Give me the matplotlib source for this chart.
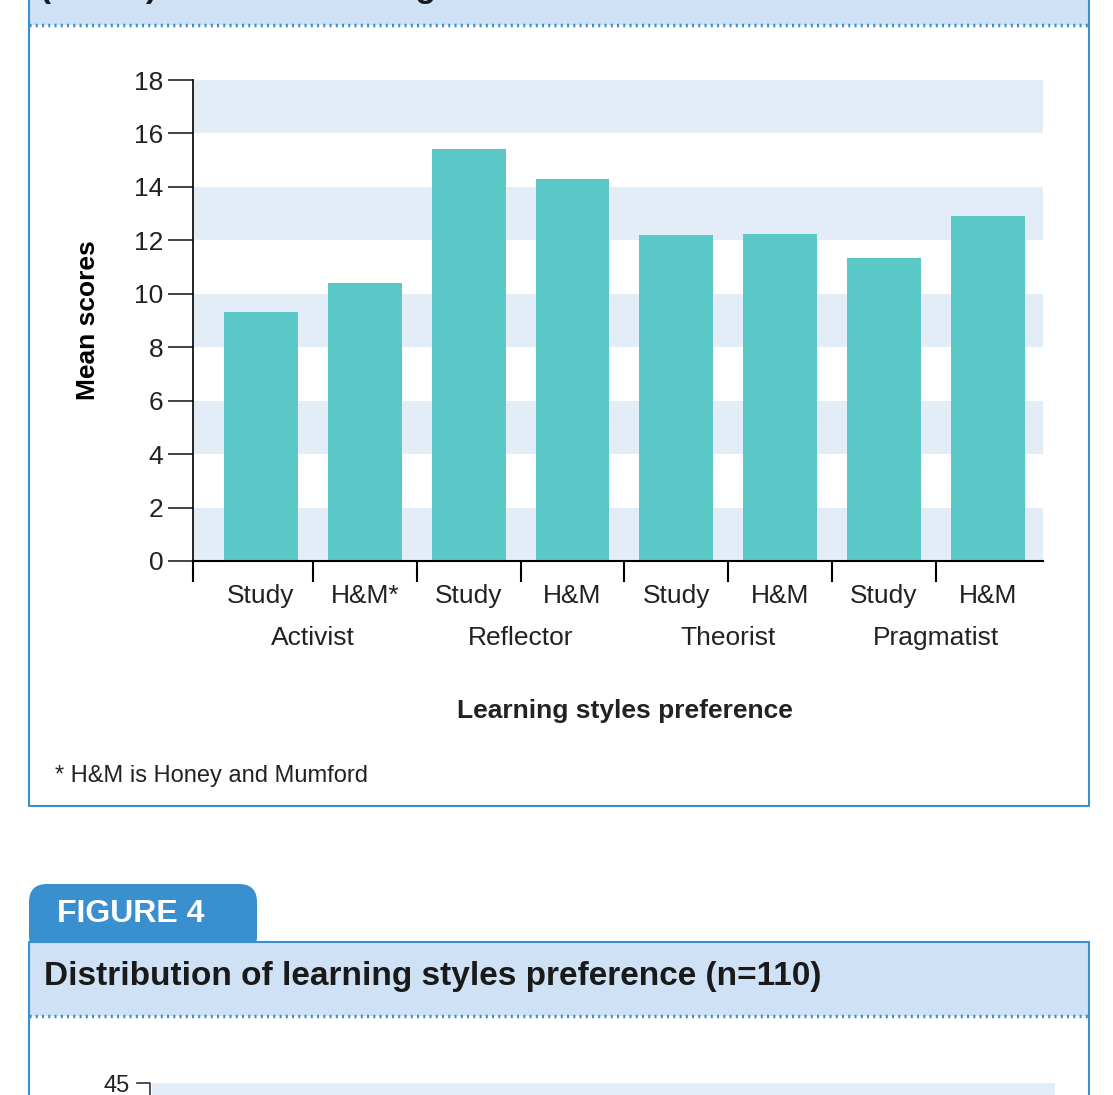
import numpy as np
import matplotlib.pyplot as plt
from matplotlib.patches import Rectangle, FancyBboxPatch

groups = ["Activist", "Reflector", "Theorist", "Pragmatist"]
bar_labels = ["Study", "H&M*", "Study", "H&M", "Study", "H&M", "Study", "H&M"]
mean_scores = [9.3, 10.4, 15.4, 14.3, 12.2, 12.25, 11.35, 12.9]
y_ticks = [0, 2, 4, 6, 8, 10, 12, 14, 16, 18]

W, H = 1113, 1095
blue = "#3a8fcf"
pale = "#cfe1f4"
teal = "#5bc8c8"
band = "#e3edf8"

fig = plt.figure(figsize=(W / 100, H / 100), dpi=100)
plt.rcParams["font.family"] = "Liberation Sans"
bg = fig.add_axes([0, 0, 1, 1])
bg.set_xlim(0, W)
bg.set_ylim(H, 0)
bg.axis("off")

# top figure box (cropped at the top in the source)
bg.add_patch(Rectangle((29, -5), 1060, 30, facecolor=pale, edgecolor="none"))
bg.plot([29, 1089], [25, 25], color=blue, lw=2.5, ls=(0, (0.6, 1.2)))
bg.plot([29, 29, 1089, 1089], [-5, 806, 806, -5], color=blue, lw=1.5)
bg.text(40, 4, "(2000b) norm for nursing students", fontsize=24, fontweight="bold",
        color="#1a1a1a", va="bottom")
bg.text(55, 776, "* H&M is Honey and Mumford", fontsize=17, color="#222222", va="center")

# figure 4 header
bg.add_patch(FancyBboxPatch((29, 884), 228, 70, boxstyle="round,pad=0,rounding_size=18",
                            facecolor=blue, edgecolor="none"))
bg.text(57, 914, "FIGURE 4", fontsize=23, fontweight="bold", color="white", va="center")
bg.add_patch(Rectangle((29, 942), 1060, 74, facecolor=pale, edgecolor="none"))
bg.plot([29, 29, 1089, 1089], [H + 5, 942, 942, H + 5], color=blue, lw=1.5)
bg.plot([29, 1089], [1016, 1016], color=blue, lw=2.5, ls=(0, (0.6, 1.2)))
bg.text(44, 976, "Distribution of learning styles preference (n=110)", fontsize=24,
        fontweight="bold", color="#1a1a1a", va="center")
bg.add_patch(Rectangle((152, 1083), 903, 20, facecolor=band, edgecolor="none"))
bg.plot([137, 150, 150], [1083, 1083, H + 2], color="#333333", lw=1.2)
bg.text(130, 1086, "45", fontsize=17, ha="right", va="center", color="#222222")

# main chart
ax = fig.add_axes([193 / W, 1 - 561 / H, 850 / W, 481 / H])
x = np.arange(len(mean_scores))
for lo in range(0, 18, 4):
    ax.axhspan(lo, lo + 2, color=band, lw=0, zorder=0)
ax.bar(x, mean_scores, width=0.71, color=teal, zorder=2)
ax.set_xlim(-0.654, len(mean_scores) - 0.47)
ax.set_ylim(0, 18)
ax.set_yticks(y_ticks)
ax.tick_params(axis="y", labelsize=19, length=18, width=1.2, colors="#222222")
ax.set_xticks([-0.654] + list(np.arange(0.5, len(mean_scores) - 1, 1.0)))
ax.set_xticklabels([])
ax.tick_params(axis="x", direction="out", length=15, width=1.5)
for s in ["top", "right"]:
    ax.spines[s].set_visible(False)
ax.spines["left"].set_linewidth(1.2)
ax.spines["bottom"].set_linewidth(1.5)
ax.set_facecolor("white")
for i, lab in enumerate(bar_labels):
    ax.text(i, -1.3, lab, ha="center", va="center", fontsize=19, color="#222222")
for g, name in enumerate(groups):
    ax.text(2 * g + 0.5, -2.9, name, ha="center", va="center", fontsize=19, color="#222222")
ax.text(3.5, -5.6, "Learning styles preference", ha="center", va="center",
        fontsize=19, fontweight="bold", color="#222222")
ax.set_ylabel("Mean scores", fontsize=19, fontweight="bold", labelpad=24)

fig.savefig("out.png", dpi=100)
